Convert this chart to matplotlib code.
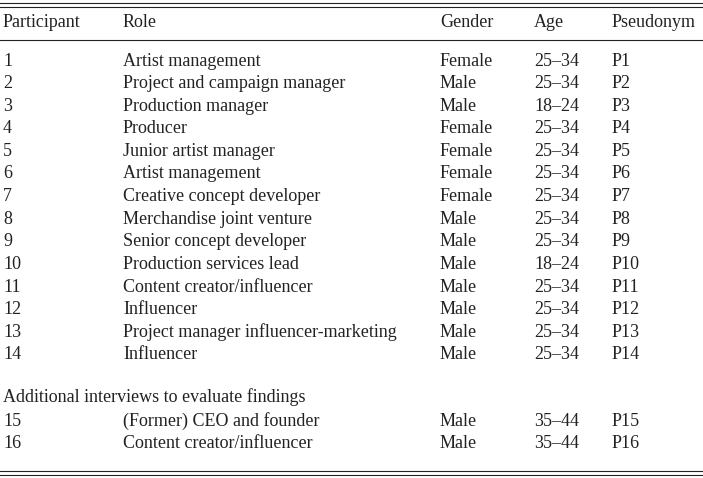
import matplotlib
matplotlib.use("Agg")
import matplotlib.pyplot as plt

headers = ["Participant", "Role", "Gender", "Age", "Pseudonym"]
participants = [str(i) for i in range(1, 15)]
roles = ["Artist management", "Project and campaign manager", "Production manager", "Producer",
         "Junior artist manager", "Artist management", "Creative concept developer",
         "Merchandise joint venture", "Senior concept developer", "Production services lead",
         "Content creator/influencer", "Influencer", "Project manager influencer-marketing", "Influencer"]
genders = ["Female", "Male", "Male", "Female", "Female", "Female", "Female", "Male", "Male", "Male",
           "Male", "Male", "Male", "Male"]
ages = ["25–34", "25–34", "18–24", "25–34", "25–34", "25–34", "25–34", "25–34", "25–34", "18–24",
        "25–34", "25–34", "25–34", "25–34"]
pseudonyms = ["P" + p for p in participants]
section_title = "Additional interviews to evaluate findings"
extra_participants = ["15", "16"]
extra_roles = ["(Former) CEO and founder", "Content creator/influencer"]
extra_genders = ["Male", "Male"]
extra_ages = ["35–44", "35–44"]
extra_pseudonyms = ["P15", "P16"]

W, H = 703, 478
fig = plt.figure(figsize=(W/100, H/100), dpi=100)
ax = fig.add_axes([0, 0, 1, 1])
ax.set_xlim(0, W); ax.set_ylim(H, 0); ax.axis("off")
font = dict(family="Liberation Serif", fontsize=13, va="center", color="#222222")
cols = [3, 123, 440, 534, 612]

for y in (2.5, 6.5, 39.5, 470.5, 474.5):
    ax.plot([0, W], [y, y], color="#222222", lw=0.8)

for x, h in zip(cols, headers):
    ax.text(x, 22, h, **font)

y0, dy = 61, 22.6
for i, row in enumerate(zip(participants, roles, genders, ages, pseudonyms)):
    for x, t in zip(cols, row):
        ax.text(x, y0 + i*dy, t, **font)

ax.text(cols[0], 397, section_title, **font)
for i, row in enumerate(zip(extra_participants, extra_roles, extra_genders, extra_ages, extra_pseudonyms)):
    for x, t in zip(cols, row):
        ax.text(x, 421 + i*23, t, **font)

fig.savefig("out.png", dpi=100, facecolor="white")
